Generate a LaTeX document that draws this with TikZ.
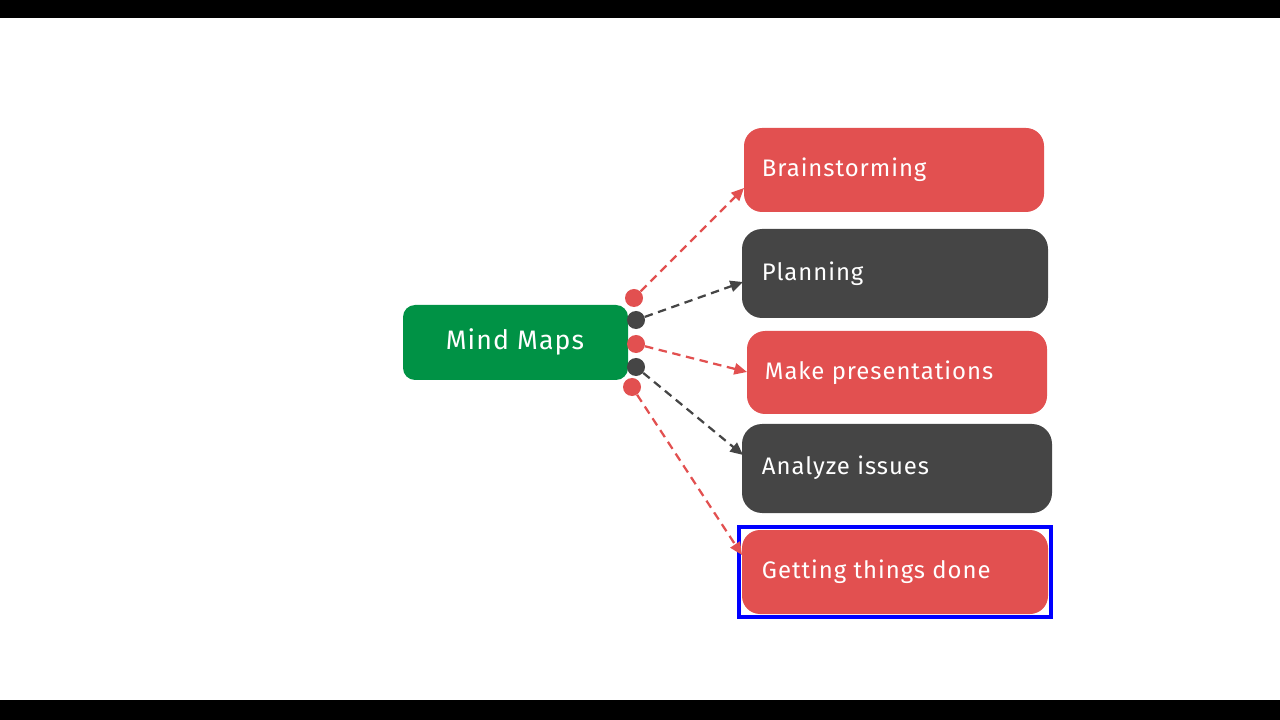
\documentclass[tikz,border=0pt]{standalone}
\usepackage{fontspec}
\setmainfont{Fira Sans}[LetterSpace=4]
\usetikzlibrary{arrows.meta}
\definecolor{rd}{HTML}{E25050}
\definecolor{dk}{HTML}{454545}
\definecolor{gr}{HTML}{009245}
\begin{document}
\begin{tikzpicture}[x=0.025cm,y=-0.025cm,
  box/.style={rounded corners=0.45cm,text=white,font=\fontsize{17}{20}\selectfont,anchor=north west,inner sep=0pt,align=left},
  dot/.style={circle,inner sep=0pt,minimum size=0.45cm},
  con/.style={dashed,line width=1.6pt,dash pattern=on 6pt off 4pt,-{Triangle[length=9pt,width=8pt]}}]
\useasboundingbox (0,0) rectangle (1280,720);
\fill[black] (0,0) rectangle (1280,18);
\fill[black] (0,700) rectangle (1280,720);
\fill[gr,rounded corners=0.3cm] (403,305) rectangle (628,380);
\node[text=white,font=\fontsize{19}{22}\selectfont] (mm) at (515,342) {Mind Maps};
\fill[rd,rounded corners=0.45cm] (744,128) rectangle (1044,212);
\node[text=white,font=\fontsize{17}{20}\selectfont,anchor=west] (b) at (757,170) {Brainstorming};
\fill[dk,rounded corners=0.5cm] (742,229) rectangle (1048,318);
\node[text=white,font=\fontsize{17}{20}\selectfont,anchor=west] (p) at (757,274) {Planning};
\fill[rd,rounded corners=0.45cm] (747,331) rectangle (1047,414);
\node[text=white,font=\fontsize{17}{20}\selectfont,anchor=west] (m) at (760,373) {Make presentations};
\fill[dk,rounded corners=0.5cm] (742,424) rectangle (1052,513);
\node[text=white,font=\fontsize{17}{20}\selectfont,anchor=west] (a) at (757,468) {Analyze issues};
\fill[rd,rounded corners=0.45cm] (742,530) rectangle (1048,614);
\draw[blue,line width=2.5pt] (739,527) rectangle (1051,617);
\node[text=white,font=\fontsize{17}{20}\selectfont,anchor=west] (g) at (757,572) {Getting things done};
\node[dot,fill=rd] (d1) at (634,298) {};
\node[dot,fill=dk] (d2) at (636,320) {};
\node[dot,fill=rd] (d3) at (636,344) {};
\node[dot,fill=dk] (d4) at (636,367) {};
\node[dot,fill=rd] (d5) at (632,387) {};
\coordinate (e1) at (744,188);
\coordinate (e2) at (743,282);
\coordinate (e3) at (747,372);
\coordinate (e4) at (743,455);
\coordinate (e5) at (742,555);
\draw[con,rd] (d1) -- (e1);
\draw[con,dk] (d2) -- (e2);
\draw[con,rd] (d3) -- (e3);
\draw[con,dk] (d4) -- (e4);
\draw[con,rd] (d5) -- (e5);
\end{tikzpicture}
\end{document}
